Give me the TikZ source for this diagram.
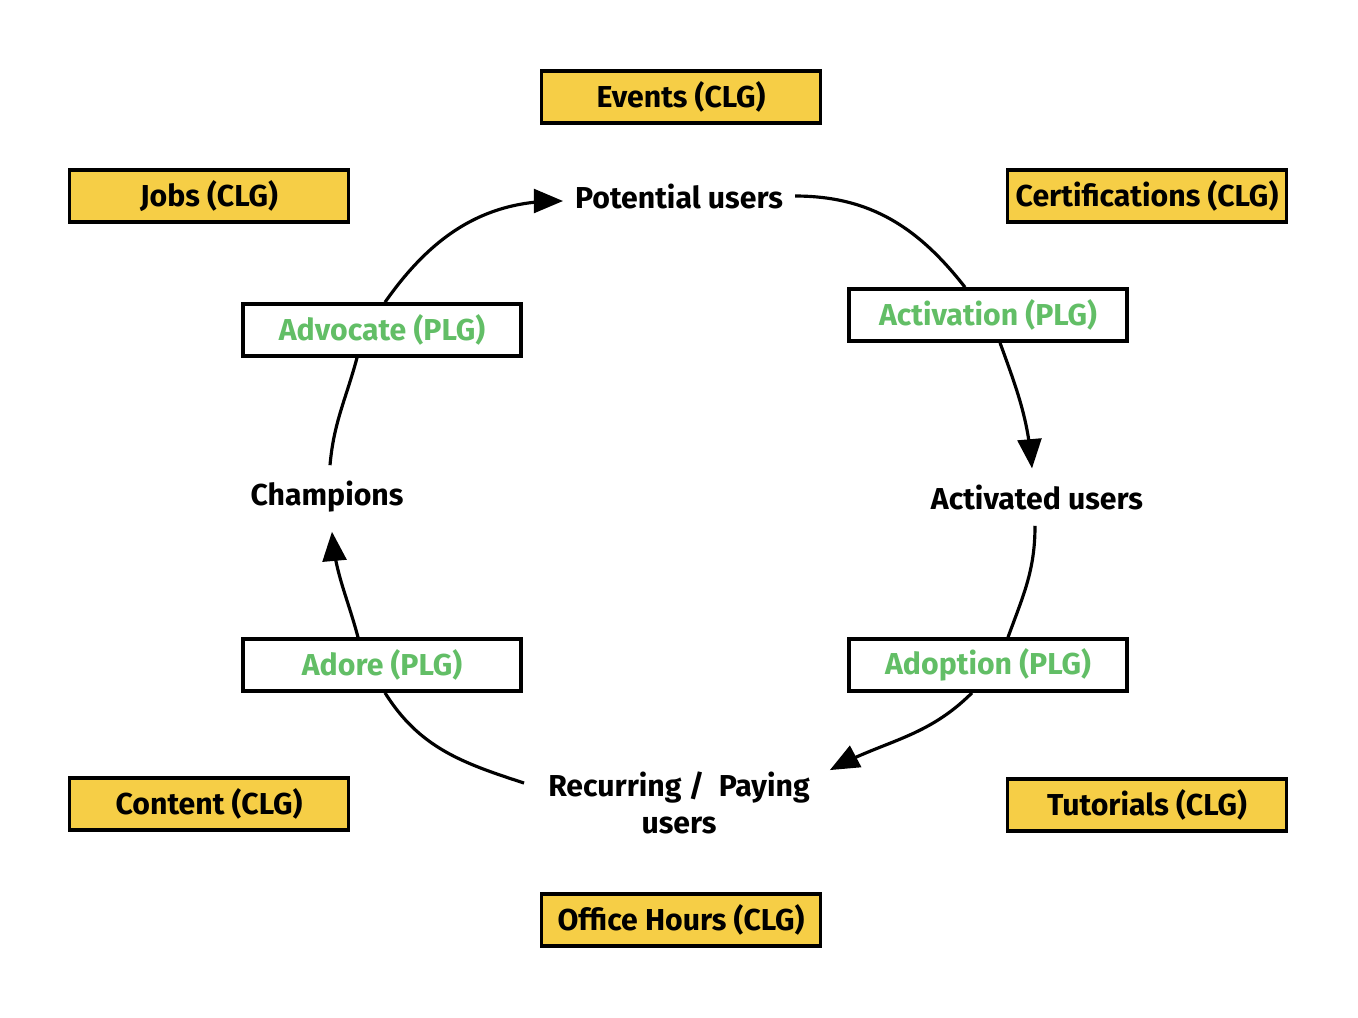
\documentclass[tikz,border=0pt]{standalone}
\usepackage{fontspec}
\setmainfont{Fira Sans}
\usetikzlibrary{arrows,calc,positioning}
\definecolor{clgyellow}{RGB}{246,206,70}
\definecolor{plggreen}{RGB}{98,190,102}
\begin{document}
\begin{tikzpicture}[x=0.01cm,y=-0.01cm,font=\fontsize{8.6}{10.5}\selectfont\bfseries]
            \tikzstyle{clg} = [draw,line width=1pt,fill=clgyellow,minimum width=2.79cm,minimum height=0.52cm,inner sep=1pt]
            \tikzstyle{plg} = [draw,line width=1pt,fill=white,text=plggreen,minimum width=2.78cm,minimum height=0.52cm,inner sep=1pt]
            \tikzstyle{stage} = [align=center,inner sep=1pt]
            \tikzstyle{edge} = [line width=0.9pt,-triangle 45]
            \tikzstyle{link} = [line width=0.9pt]

            \useasboundingbox (0,0) rectangle (1358,1017);

            % stages
            \node[stage] (pot) at (679,196) {Potential users};
            \node[stage] (actd) at (1037,497) {Activated users};
            \node[stage] (pay) at (679,803) {Recurring /\ \ Paying\\users};
            \node[stage] (champ) at (327,497) {Champions};

            % PLG boxes
            \node[plg] (act) at (988,315) {Activation (PLG)};
            \node[plg] (adopt) at (988,665) {Adoption (PLG)};
            \node[plg] (adore) at (382,665) {Adore (PLG)};
            \node[plg] (advo) at (382,330) {Advocate (PLG)};

            % CLG boxes
            \node[clg] (events) at (681,97) {Events (CLG)};
            \node[clg] (jobs) at (209,196) {Jobs (CLG)};
            \node[clg] (cert) at (1147,196) {Certifications (CLG)};
            \node[clg] (content) at (209,804) {Content (CLG)};
            \node[clg] (tut) at (1147,805) {Tutorials (CLG)};
            \node[clg] (office) at (681,920) {Office Hours (CLG)};

            % cycle
            \draw[link] ($(pot.east)+(8,0)$) to[out=0,in=128] ($(act.north)+(-23,0)$);
            \draw[edge] ($(act.south)+(12,0)$) to[out=-70,in=95] ($(actd.north)+(-5,-12)$);
            \draw[link] ($(actd.south)+(-2,12)$) to[out=-90,in=70] ($(adopt.north)+(20,0)$);
            \draw[edge] ($(adopt.south)+(-16,0)$) to[out=-135,in=28] ($(pay.east)+(16,-33)$);
            \draw[link] ($(pay.west)+(-20,-20)$) to[out=162,in=-58] ($(adore.south)+(3,0)$);
            \draw[edge] ($(adore.north)+(-24,0)$) to[out=105,in=-85] ($(champ.south)+(5,15)$);
            \draw[link] ($(champ.north)+(3,-12)$) to[out=85,in=-105] ($(advo.south)+(-25,0)$);
            \draw[edge] ($(advo.north)+(3,0)$) to[out=55,in=180] ($(pot.west)+(-8,5)$);
        \end{tikzpicture}
\end{document}
